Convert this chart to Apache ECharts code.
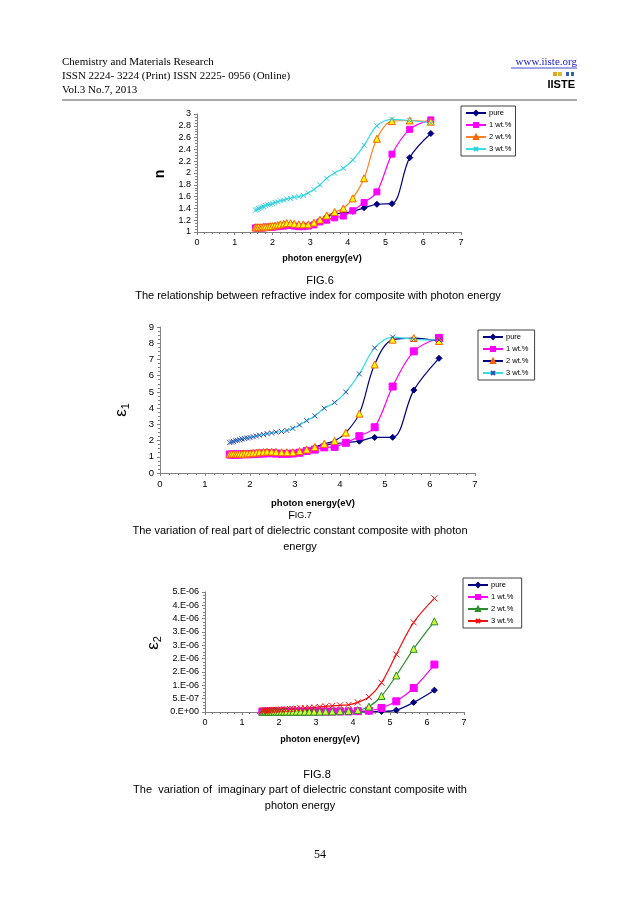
<!DOCTYPE html>
<html><head><meta charset="utf-8">
<script src="https://cdn.jsdelivr.net/npm/echarts@6/dist/echarts.min.js"></script>
<style>html,body{margin:0;padding:0;background:#fff}#c{width:638px;height:903px}</style>
</head><body><div id="c"></div>
<script>
// photon energies (eV)
const energy = [1.55,1.59,1.63,1.68,1.72,1.77,1.82,1.88,1.94,2.00,2.07,2.14,2.21,2.30,2.38,2.48,2.58,2.70,2.82,2.95,3.10,3.26,3.44,3.65,3.88,4.13,4.43,4.77,5.17,5.64,6.20];
const seriesNames = ['pure','1 wt.%','2 wt.%','3 wt.%'];

// FIG.6 refractive index n
const n_pure = [1.08,1.08,1.08,1.08,1.08,1.09,1.09,1.09,1.09,1.09,1.10,1.10,1.11,1.12,1.13,1.13,1.12,1.12,1.12,1.12,1.15,1.20,1.26,1.31,1.32,1.35,1.41,1.47,1.48,2.26,2.67];
const n_1wt = [1.07,1.07,1.07,1.07,1.07,1.07,1.08,1.08,1.08,1.08,1.09,1.09,1.10,1.10,1.11,1.11,1.10,1.09,1.09,1.10,1.12,1.17,1.20,1.24,1.27,1.36,1.50,1.68,2.32,2.74,2.90];
const n_2wt = [1.08,1.08,1.08,1.08,1.08,1.09,1.09,1.09,1.10,1.10,1.11,1.12,1.13,1.14,1.15,1.15,1.14,1.13,1.13,1.13,1.16,1.21,1.28,1.34,1.40,1.57,1.91,2.58,2.88,2.89,2.87];
const n_3wt = [1.37,1.38,1.40,1.41,1.42,1.43,1.45,1.46,1.47,1.48,1.50,1.51,1.53,1.54,1.56,1.57,1.59,1.60,1.62,1.66,1.72,1.80,1.91,2.00,2.08,2.22,2.47,2.80,2.91,2.89,2.85];

// FIG.7 real part of dielectric constant
const e1_pure = [1.17,1.17,1.17,1.17,1.17,1.18,1.18,1.18,1.19,1.19,1.21,1.22,1.24,1.26,1.28,1.28,1.26,1.25,1.25,1.26,1.32,1.44,1.59,1.72,1.80,1.88,1.96,2.19,2.20,5.11,7.07];
const e1_1wt = [1.14,1.14,1.14,1.14,1.14,1.14,1.16,1.16,1.16,1.16,1.18,1.18,1.20,1.20,1.22,1.22,1.20,1.18,1.18,1.20,1.25,1.36,1.44,1.58,1.61,1.86,2.27,2.82,5.33,7.50,8.32];
const e1_2wt = [1.17,1.17,1.17,1.17,1.17,1.19,1.19,1.19,1.21,1.21,1.23,1.25,1.28,1.30,1.32,1.32,1.30,1.28,1.28,1.28,1.35,1.45,1.60,1.80,1.98,2.49,3.66,6.69,8.22,8.32,8.14];
const e1_3wt = [1.88,1.91,1.95,1.99,2.02,2.05,2.10,2.13,2.16,2.19,2.24,2.28,2.33,2.37,2.43,2.47,2.52,2.56,2.62,2.75,2.96,3.23,3.52,3.99,4.35,4.99,6.11,7.71,8.38,8.24,8.20];

// FIG.8 imaginary part of dielectric constant
const e2_pure = [0.5e-8,0.5e-8,0.5e-8,0.5e-8,0.5e-8,0.5e-8,0.5e-8,0.5e-8,0.5e-8,0.5e-8,0.6e-8,0.6e-8,0.6e-8,0.6e-8,0.7e-8,0.7e-8,0.7e-8,0.7e-8,0.8e-8,0.8e-8,0.8e-8,0.9e-8,1.0e-8,1.0e-8,1.0e-8,1.2e-8,1.5e-8,2.0e-8,7.0e-8,3.6e-7,8.2e-7];
const e2_1wt = [1.0e-8,1.0e-8,1.0e-8,1.0e-8,1.0e-8,1.0e-8,1.0e-8,1.0e-8,1.0e-8,1.0e-8,1.0e-8,1.0e-8,1.1e-8,1.1e-8,1.1e-8,1.2e-8,1.2e-8,1.2e-8,1.3e-8,1.3e-8,1.4e-8,1.5e-8,1.6e-8,2.0e-8,2.0e-8,3.0e-8,5.0e-8,1.5e-7,4.0e-7,9.0e-7,1.78e-6];
const e2_2wt = [1.0e-8,1.0e-8,1.0e-8,1.0e-8,1.0e-8,1.0e-8,1.0e-8,1.0e-8,1.0e-8,1.0e-8,1.0e-8,1.0e-8,1.1e-8,1.1e-8,1.1e-8,1.2e-8,1.2e-8,1.2e-8,1.3e-8,1.3e-8,1.4e-8,2.0e-8,2.0e-8,3.0e-8,4.0e-8,7.0e-8,2.0e-7,6.0e-7,1.37e-6,2.37e-6,3.40e-6];
const e2_3wt = [5.0e-8,5.0e-8,6.0e-8,6.0e-8,6.0e-8,7.0e-8,7.0e-8,8.0e-8,8.0e-8,9.0e-8,9.0e-8,1.0e-7,1.0e-7,1.1e-7,1.2e-7,1.3e-7,1.4e-7,1.5e-7,1.6e-7,1.7e-7,1.9e-7,2.1e-7,2.3e-7,2.5e-7,2.7e-7,3.6e-7,5.6e-7,1.10e-6,2.16e-6,3.36e-6,4.26e-6];

// tick labels
const xTickLabels = ['0','1','2','3','4','5','6','7'];
const nTickLabels = ['1','1.2','1.4','1.6','1.8','2','2.2','2.4','2.6','2.8','3'];
const e1TickLabels = ['0','1','2','3','4','5','6','7','8','9'];
const e2TickLabels = ['0.E+00','5.E-07','1.E-06','2.E-06','2.E-06','3.E-06','3.E-06','4.E-06','4.E-06','5.E-06'];

const chart = echarts.init(document.getElementById('c'), null, {renderer:'canvas'});
const SANS = 'Liberation Sans, Arial, sans-serif';
const SERIF = 'Liberation Serif, Times New Roman, serif';
const AX = '#808080';
const XMARK = 'path://M0,0L10,10M10,0L0,10';

function pairs(arr){ return energy.map((e,i)=>[e,arr[i]]); }
function mk(name, arr, idx, lineColor, symbol, size, fill, border){
  return {
    name: name, type:'line', xAxisIndex: idx, yAxisIndex: idx,
    data: pairs(arr), smooth: 0.35, symbol: symbol, symbolSize: size,
    lineStyle:{color: lineColor, width: 1.2},
    itemStyle:{color: fill, borderColor: border, borderWidth: 1},
    emphasis:{disabled:true}, animation:false, z: 3
  };
}
const sfx = ['', ' ', '  '];
function names(k){ return seriesNames.map(s=>s+sfx[k]); }

const series = [];
const N0 = names(0), N1 = names(1), N2 = names(2);
series.push(mk(N0[0], n_pure, 0, '#000080','diamond',6,'#000080','#000080'));
series.push(mk(N0[1], n_1wt, 0, '#FF00FF','rect',6,'#FF00FF','#FF00FF'));
series.push(mk(N0[2], n_2wt, 0, '#FF8020','triangle',7,'#FFFF00','#FF6000'));
series.push(mk(N0[3], n_3wt, 0, '#33E0E8',XMARK,5,'#33E0E8','#33D0E0'));

series.push(mk(N1[0], e1_pure, 1, '#000080','diamond',6,'#000080','#000080'));
series.push(mk(N1[1], e1_1wt, 1, '#FF00FF','rect',7,'#FF00FF','#FF00FF'));
series.push(mk(N1[2], e1_2wt, 1, '#000080','triangle',7,'#FFFF00','#FF6000'));
series.push(mk(N1[3], e1_3wt, 1, '#33E0E8',XMARK,5,'#33E0E8','#3050B0'));

series.push(mk(N2[0], e2_pure, 2, '#000080','diamond',6,'#000080','#000080'));
series.push(mk(N2[1], e2_1wt, 2, '#FF00FF','rect',7,'#FF00FF','#FF00FF'));
series.push(mk(N2[2], e2_2wt, 2, '#2E8B2E','triangle',7,'#CCFF33','#2E8B2E'));
series.push(mk(N2[3], e2_3wt, 2, '#EE1111',XMARK,6,'#EE1111','#EE1111'));

function xAxis(idx, fs){
  return {type:'value', gridIndex: idx, min:0, max:7, interval:1,
    axisLine:{show:true, onZero:false, lineStyle:{color:AX, width:1}},
    axisTick:{show:true, length:3, lineStyle:{color:AX}},
    minorTick:{show:true, splitNumber:5, length:2, lineStyle:{color:AX}},
    splitLine:{show:false},
    axisLabel:{fontFamily:SANS, fontSize:fs, color:'#000', margin:6,
      formatter:(v)=>xTickLabels[Math.round(v)]}
  };
}
function yAxis(idx, min, max, interval, labels, fs){
  return {type:'value', gridIndex: idx, min:min, max:max, interval:interval,
    axisLine:{show:true, lineStyle:{color:AX, width:1}},
    axisTick:{show:true, length:3, lineStyle:{color:AX}},
    minorTick:{show:true, splitNumber:4, length:2, lineStyle:{color:AX}},
    splitLine:{show:false},
    axisLabel:{fontFamily:SANS, fontSize:fs, color:'#000', margin:6,
      formatter:(v)=>labels[Math.round((v-min)/interval)]}
  };
}
function legend(k, left, top){
  return {show:true, data: names(k), orient:'vertical', left:left, top:top,
    itemWidth:20, itemHeight:5, itemGap:4, padding:[3,4,3,4],
    borderColor:'#404040', borderWidth:1, backgroundColor:'#fff',
    textStyle:{fontFamily:SANS, fontSize:7.5, color:'#000', padding:[0,0,0,-2]},
    selectedMode:false};
}
function txt(x,y,s,font,opts){
  return Object.assign({type:'text', x:x, y:y, silent:true,
    style:Object.assign({text:s, font:font, fill:'#000', textAlign:'left', textVerticalAlign:'middle'}, opts||{})});
}

const graphic = [
  txt(62,62,'Chemistry and Materials Research','11px '+SERIF),
  txt(62,76,'ISSN 2224- 3224 (Print) ISSN 2225- 0956 (Online)','11px '+SERIF),
  txt(62,90,'Vol.3 No.7, 2013','11px '+SERIF),
  txt(577,62,'www.iiste.org','11px '+SERIF,{fill:'#1a1aCC', textAlign:'right'}),
  {type:'line', silent:true, shape:{x1:511,y1:68,x2:577,y2:68}, style:{stroke:'#1a1aCC', lineWidth:0.8}},
  {type:'rect', silent:true, shape:{x:553,y:72,width:4,height:4}, style:{fill:'#E8A020'}},
  {type:'rect', silent:true, shape:{x:558,y:72,width:4,height:4}, style:{fill:'#D0C030'}},
  {type:'rect', silent:true, shape:{x:566,y:72,width:3,height:4}, style:{fill:'#3060B0'}},
  {type:'rect', silent:true, shape:{x:571,y:72,width:3,height:4}, style:{fill:'#3060B0'}},
  txt(575,85,'IISTE','bold 11px '+SANS,{textAlign:'right'}),
  {type:'line', silent:true, shape:{x1:62,y1:100,x2:577,y2:100}, style:{stroke:'#555', lineWidth:1.2}},

  // chart 1 labels
  txt(322,259,'photon energy(eV)','bold 9px '+SANS,{textAlign:'center'}),
  {type:'text', x:160, y:174, rotation:Math.PI/2, silent:true,
    style:{text:'n', font:'bold 14px '+SANS, fill:'#000', textAlign:'center', textVerticalAlign:'middle'}},
  txt(320,281,'FIG.6','11px '+SANS,{textAlign:'center'}),
  txt(318,296,'The relationship between refractive index for composite with photon energy','11px '+SANS,{textAlign:'center'}),

  // chart 2 labels
  txt(313,503,'photon energy(eV)','bold 9.5px '+SANS,{textAlign:'center'}),
  {type:'text', x:121, y:410, rotation:Math.PI/2, silent:true,
    style:{text:'{a|ε}{b|1}', fill:'#000', textAlign:'center', textVerticalAlign:'middle',
      rich:{a:{font:'17px '+SANS, fill:'#000'}, b:{font:'11px '+SANS, fill:'#000', padding:[10,0,0,0]}}}},
  {type:'text', x:300, y:516, silent:true,
    style:{text:'{a|F}{b|IG.7}', fill:'#000', textAlign:'center', textVerticalAlign:'middle',
      rich:{a:{font:'11px '+SANS, fill:'#000'}, b:{font:'9px '+SANS, fill:'#000'}}}},
  txt(300,531,'The variation of real part of dielectric constant composite with photon','11px '+SANS,{textAlign:'center'}),
  txt(300,547,'energy','11px '+SANS,{textAlign:'center'}),

  // chart 3 labels
  txt(320,740,'photon energy(eV)','bold 9px '+SANS,{textAlign:'center'}),
  {type:'text', x:153, y:643, rotation:Math.PI/2, silent:true,
    style:{text:'{a|ε}{b|2}', fill:'#000', textAlign:'center', textVerticalAlign:'middle',
      rich:{a:{font:'17px '+SANS, fill:'#000'}, b:{font:'11px '+SANS, fill:'#000', padding:[10,0,0,0]}}}},
  txt(317,775,'FIG.8','11px '+SANS,{textAlign:'center'}),
  txt(300,790,'The  variation of  imaginary part of dielectric constant composite with','11px '+SANS,{textAlign:'center'}),
  txt(300,806,'photon energy','11px '+SANS,{textAlign:'center'}),

  txt(320,855,'54','12px '+SERIF,{textAlign:'center'})
];

chart.setOption({
  animation:false,
  backgroundColor:'#fff',
  grid:[
    {left:197, top:114, width:264, height:118},
    {left:160, top:327, width:315, height:146},
    {left:205, top:592, width:259, height:120}
  ],
  xAxis:[xAxis(0,9), xAxis(1,9.5), xAxis(2,9)],
  yAxis:[
    yAxis(0,1,3,0.2,nTickLabels,9),
    yAxis(1,0,9,1,e1TickLabels,9.5),
    yAxis(2,0,4.5e-6,5e-7,e2TickLabels,9)
  ],
  legend:[legend(0,461,106), legend(1,478,330), legend(2,463,578)],
  series: series,
  graphic: graphic
});
</script>
</body></html>
